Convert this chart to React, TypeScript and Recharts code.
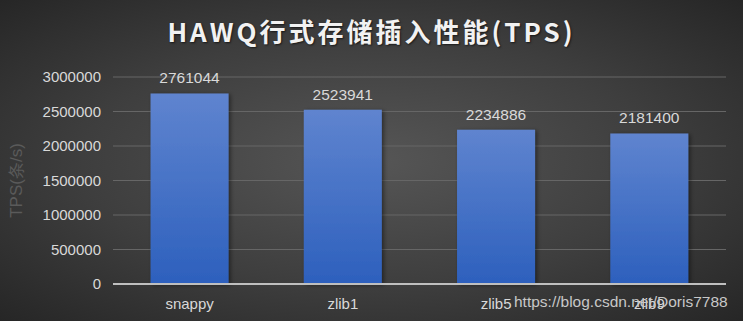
import { BarChart, Bar, XAxis, YAxis, CartesianGrid, LabelList } from 'recharts';

// compression codecs and measured insert throughput
const codecs = ['snappy', 'zlib1', 'zlib5', 'zlib9'];
const tps = [2761044, 2523941, 2234886, 2181400];
const yTicks = [0, 500000, 1000000, 1500000, 2000000, 2500000, 3000000];

const data = codecs.map((name, i) => ({ name, tps: tps[i] }));

export default function App() {
  return (
    <div
      style={{
        position: 'absolute',
        left: 0,
        top: 0,
        width: 743,
        height: 321,
        background: 'radial-gradient(ellipse at 50% 50%, #565656 0%, #3e3e3e 55%, #262626 100%)',
        fontFamily: '"Liberation Sans", Arial, sans-serif',
        overflow: 'hidden',
      }}
    >
      <div
        style={{
          position: 'absolute',
          left: 0,
          top: 14,
          width: 743,
          textAlign: 'center',
          color: '#f2f2f2',
          fontFamily: '"Noto Sans CJK SC", "Noto Sans", sans-serif',
          fontWeight: 700,
          fontSize: 26,
          letterSpacing: 3,
          lineHeight: '34px',
          textShadow: '1px 1px 2px rgba(0,0,0,0.6)',
        }}
      >
        HAWQ行式存储插入性能(TPS)
      </div>
      <BarChart
        width={743}
        height={321}
        data={data}
        margin={{ top: 77, right: 17, bottom: 0, left: 0 }}
        barCategoryGap="24.5%"
      >
        <defs>
          <linearGradient id="barFill" x1="0" y1="0" x2="0" y2="1">
            <stop offset="0%" stopColor="#5f84cf" />
            <stop offset="100%" stopColor="#2d60bd" />
          </linearGradient>
          <filter id="barShadow" x="-10%" y="-10%" width="130%" height="130%">
            <feDropShadow dx="2" dy="1" stdDeviation="2" floodColor="#000" floodOpacity="0.45" />
          </filter>
        </defs>
        <CartesianGrid vertical={false} stroke="#666666" strokeWidth={1} />
        <XAxis
          dataKey="name"
          height={37}
          tickLine={false}
          axisLine={{ stroke: '#bfbfbf', strokeWidth: 2 }}
          tick={{ fill: '#d9d9d9', fontSize: 15 }}
          tickMargin={8}
        />
        <YAxis
          width={113}
          domain={[0, 3000000]}
          ticks={yTicks}
          interval={0}
          axisLine={false}
          tickLine={false}
          tick={{ fill: '#d9d9d9', fontSize: 15 }}
          tickMargin={6}
          label={{
            value: 'TPS(条/s)',
            angle: -90,
            position: 'insideLeft',
            offset: 16,
            style: { fill: '#5a5a5a', fontSize: 17, textAnchor: 'middle' },
          }}
        />
        <Bar dataKey="tps" fill="url(#barFill)" filter="url(#barShadow)" isAnimationActive={false}>
          <LabelList dataKey="tps" position="top" offset={10} style={{ fill: '#d9d9d9', fontSize: 15.5 }} />
        </Bar>
      </BarChart>
      <div
        style={{
          position: 'absolute',
          left: 514,
          top: 293,
          color: '#c8c8c8',
          fontSize: 15.5,
          whiteSpace: 'nowrap',
        }}
      >
        https://blog.csdn.net/Doris7788
      </div>
    </div>
  );
}
